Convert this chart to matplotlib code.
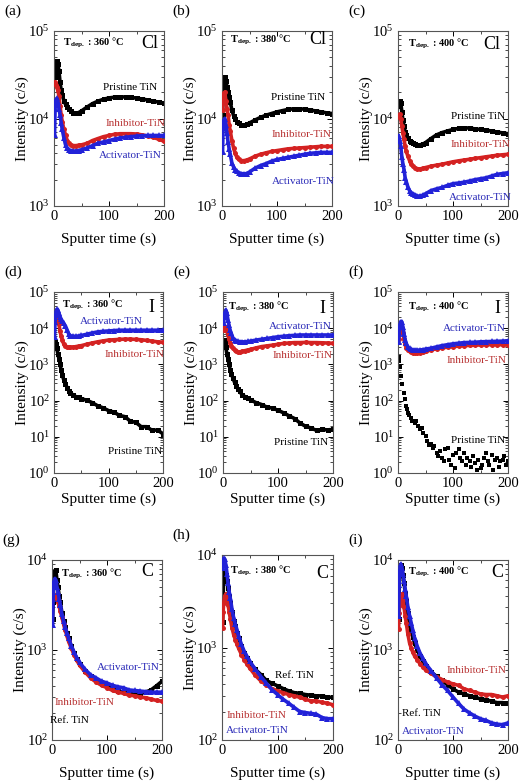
import numpy as np
import matplotlib
matplotlib.use('Agg')
import matplotlib.pyplot as plt
from matplotlib.ticker import LogLocator, LogFormatterMathtext, NullFormatter, MultipleLocator

plt.rcParams['font.family'] = ['Liberation Serif', 'DejaVu Serif']
plt.rcParams['mathtext.fontset'] = 'custom'
plt.rcParams['mathtext.rm'] = 'Liberation Serif'
plt.rcParams['mathtext.bf'] = 'Liberation Serif:bold'
plt.rcParams['mathtext.it'] = 'Liberation Serif:italic'

# tiempos de muestreo comunes (s)
t_grid = [1, 2, 3, 5, 7, 9, 11, 13, 15, 18, 21, 24, 27, 30, 35, 40, 45, 50, 60, 70,
          80, 90, 100, 110, 120, 130, 140, 150, 160, 170, 180, 190, 200]

# ---- Cl, 360 C
a_pristine = [3.0e4, 3.4e4, 4.0e4, 4.5e4, 4.2e4, 3.5e4, 2.6e4, 2.1e4, 1.85e4, 1.6e4, 1.45e4, 1.35e4, 1.28e4, 1.22e4, 1.17e4, 1.15e4, 1.17e4, 1.22e4, 1.35e4, 1.48e4,
              1.58e4, 1.66e4, 1.72e4, 1.75e4, 1.77e4, 1.76e4, 1.74e4, 1.71e4, 1.67e4, 1.63e4, 1.58e4, 1.54e4, 1.5e4]
a_inhib = [2.6e4, 2.5e4, 2.4e4, 2.3e4, 2.1e4, 1.8e4, 1.4e4, 1.1e4, 9.2e3, 7.5e3, 6.5e3, 5.6e3, 5.2e3, 5.0e3, 4.9e3, 4.9e3, 4.95e3, 5.0e3, 5.2e3, 5.6e3,
           5.9e3, 6.2e3, 6.4e3, 6.6e3, 6.7e3, 6.7e3, 6.7e3, 6.65e3, 6.5e3, 6.3e3, 6.1e3, 5.8e3, 5.5e3]
a_activ = [6.5e3, 1.3e4, 1.6e4, 1.7e4, 1.55e4, 1.3e4, 1.1e4, 9.0e3, 7.5e3, 6.0e3, 5.0e3, 4.6e3, 4.4e3, 4.3e3, 4.25e3, 4.25e3, 4.3e3, 4.4e3, 4.6e3, 4.9e3,
           5.2e3, 5.4e3, 5.6e3, 5.8e3, 6.0e3, 6.1e3, 6.2e3, 6.3e3, 6.35e3, 6.4e3, 6.4e3, 6.4e3, 6.4e3]

# ---- Cl, 380 C
b_pristine = [1.1e4, 2.3e4, 2.8e4, 3.0e4, 2.7e4, 2.3e4, 2.0e4, 1.75e4, 1.55e4, 1.25e4, 1.08e4, 9.8e3, 9.2e3, 8.8e3, 8.4e3, 8.4e3, 8.6e3, 8.9e3, 9.6e3, 1.03e4,
              1.09e4, 1.14e4, 1.19e4, 1.23e4, 1.27e4, 1.29e4, 1.29e4, 1.28e4, 1.25e4, 1.22e4, 1.19e4, 1.16e4, 1.14e4]
b_inhib = [1.25e4, 1.7e4, 1.95e4, 2.0e4, 1.6e4, 1.3e4, 1.1e4, 8.5e3, 7.2e3, 5.6e3, 4.6e3, 4.0e3, 3.6e3, 3.4e3, 3.3e3, 3.3e3, 3.35e3, 3.45e3, 3.7e3, 3.9e3,
           4.05e3, 4.2e3, 4.3e3, 4.4e3, 4.5e3, 4.55e3, 4.6e3, 4.65e3, 4.7e3, 4.75e3, 4.8e3, 4.8e3, 4.8e3]
b_activ = [4.1e3, 8.4e3, 9.5e3, 1.0e4, 8.5e3, 6.8e3, 5.4e3, 4.5e3, 3.9e3, 3.1e3, 2.8e3, 2.6e3, 2.5e3, 2.4e3, 2.35e3, 2.33e3, 2.35e3, 2.45e3, 2.7e3, 2.9e3,
           3.05e3, 3.25e3, 3.4e3, 3.5e3, 3.6e3, 3.7e3, 3.8e3, 3.9e3, 4.0e3, 4.05e3, 4.1e3, 4.1e3, 4.1e3]

# ---- Cl, 400 C
c_pristine = [1.4e4, 1.5e4, 1.57e4, 1.5e4, 1.2e4, 9.5e3, 8.2e3, 7.0e3, 6.4e3, 6.0e3, 5.6e3, 5.4e3, 5.2e3, 5.1e3, 5.0e3, 5.0e3, 5.1e3, 5.3e3, 5.9e3, 6.5e3,
              6.9e3, 7.2e3, 7.5e3, 7.7e3, 7.8e3, 7.8e3, 7.6e3, 7.5e3, 7.35e3, 7.2e3, 7.0e3, 6.85e3, 6.7e3]
c_inhib = [1.05e4, 1.1e4, 1.12e4, 1.0e4, 8.2e3, 6.8e3, 5.8e3, 4.8e3, 4.2e3, 3.7e3, 3.3e3, 3.0e3, 2.85e3, 2.75e3, 2.67e3, 2.65e3, 2.7e3, 2.75e3, 2.85e3, 2.93e3,
           3.0e3, 3.1e3, 3.2e3, 3.28e3, 3.35e3, 3.42e3, 3.5e3, 3.57e3, 3.65e3, 3.72e3, 3.8e3, 3.85e3, 3.9e3]
c_activ = [6.3e3, 6.0e3, 5.6e3, 4.8e3, 3.65e3, 3.0e3, 2.6e3, 2.1e3, 1.9e3, 1.65e3, 1.5e3, 1.42e3, 1.38e3, 1.35e3, 1.3e3, 1.3e3, 1.33e3, 1.38e3, 1.5e3, 1.57e3,
           1.63e3, 1.72e3, 1.8e3, 1.83e3, 1.87e3, 1.93e3, 2.0e3, 2.05e3, 2.1e3, 2.2e3, 2.3e3, 2.35e3, 2.4e3]

# ---- I, 360 C
d_pristine = [4.2e3, 4.0e3, 3.6e3, 2.8e3, 2.0e3, 1.45e3, 1.05e3, 7.0e2, 5.2e2, 3.7e2, 2.9e2, 2.3e2, 1.9e2, 1.66e2, 1.43e2, 1.29e2, 1.24e2, 1.14e2, 1.02e2, 8.8e1,
              7.2e1, 6.3e1, 5.3e1, 4.8e1, 3.9e1, 3.6e1, 2.7e1, 2.5e1, 1.9e1, 1.9e1, 1.5e1, 1.55e1, 1.2e1]
d_inhib = [1.7e4, 2.0e4, 2.2e4, 2.1e4, 1.7e4, 1.3e4, 8.5e3, 6.2e3, 4.8e3, 3.6e3, 3.2e3, 3.0e3, 2.95e3, 2.95e3, 3.0e3, 3.1e3, 3.2e3, 3.3e3, 3.6e3, 3.9e3,
           4.2e3, 4.45e3, 4.7e3, 4.8e3, 4.9e3, 5.0e3, 5.0e3, 4.9e3, 4.8e3, 4.6e3, 4.4e3, 4.2e3, 4.1e3]
d_activ = [5.8e3, 1.5e4, 2.3e4, 3.3e4, 3.2e4, 2.6e4, 2.1e4, 1.8e4, 1.6e4, 1.35e4, 1.15e4, 9.0e3, 7.0e3, 6.2e3, 6.0e3, 6.0e3, 6.1e3, 6.3e3, 6.8e3, 7.4e3,
           7.9e3, 8.2e3, 8.4e3, 8.6e3, 8.8e3, 8.8e3, 8.8e3, 8.8e3, 8.8e3, 8.8e3, 8.8e3, 8.8e3, 8.8e3]

# ---- I, 380 C
e_pristine = [4.7e3, 4.5e3, 4.1e3, 3.0e3, 2.0e3, 1.4e3, 1.0e3, 7.2e2, 5.6e2, 4.2e2, 3.2e2, 2.6e2, 2.1e2, 1.8e2, 1.43e2, 1.29e2, 1.15e2, 1.04e2, 8.8e1, 7.8e1,
              6.6e1, 6.2e1, 5.4e1, 4.6e1, 3.8e1, 3.2e1, 2.4e1, 1.95e1, 1.75e1, 1.5e1, 1.6e1, 1.55e1, 1.6e1]
e_inhib = [8.8e3, 1.0e4, 1.1e4, 1.1e4, 8.5e3, 6.5e3, 5.0e3, 4.0e3, 3.3e3, 2.8e3, 2.5e3, 2.3e3, 2.2e3, 2.2e3, 2.3e3, 2.4e3, 2.5e3, 2.6e3, 2.85e3, 3.1e3,
           3.25e3, 3.4e3, 3.6e3, 3.8e3, 3.9e3, 4.0e3, 4.0e3, 4.05e3, 4.0e3, 4.0e3, 3.95e3, 3.9e3, 3.8e3]
e_activ = [1.35e4, 2.0e4, 2.5e4, 3.2e4, 2.6e4, 1.7e4, 1.2e4, 8.8e3, 7.2e3, 5.4e3, 4.8e3, 4.5e3, 4.3e3, 4.2e3, 4.2e3, 4.2e3, 4.3e3, 4.4e3, 4.7e3, 4.95e3,
           5.2e3, 5.5e3, 5.8e3, 6.0e3, 6.2e3, 6.35e3, 6.5e3, 6.5e3, 6.5e3, 6.5e3, 6.5e3, 6.5e3, 6.5e3]

# ---- I, 400 C (pristine con ruido, tiempos propios)
f_pristine_t = [1, 2, 4, 6, 8, 10, 12, 14, 16, 18, 20, 23, 26, 30, 33, 36, 40, 43, 46, 50,
                53, 56, 60, 63, 66, 70, 73, 76, 80, 83, 86, 90, 93, 96, 100, 103, 106, 110, 113, 116,
                120, 123, 126, 130, 133, 136, 140, 143, 146, 150, 153, 156, 160, 163, 166, 170, 173, 176, 180, 183,
                186, 190, 193, 196, 200]
f_pristine = [1.56e3, 1.26e3, 8.3e2, 4.9e2, 2.8e2, 1.67e2, 1.09e2, 7.1e1, 5.7e1, 4.6e1, 4.0e1, 3.4e1, 2.8e1, 2.4e1, 2.7e1, 2.0e1, 1.6e1, 1.8e1, 1.3e1, 1.05e1,
              7.6, 6.1, 6.4, 4.9, 5.5, 3.6, 2.9, 4.0, 2.6, 2.1, 4.5, 4.9, 2.3, 1.7, 3.2, 1.4, 3.6, 4.5, 2.6, 2.1,
              3.6, 1.7, 2.6, 2.1, 1.5, 2.9, 1.9, 1.2, 2.3, 1.4, 1.7, 2.6, 3.6, 2.1, 1.7, 3.2, 1.2, 2.3, 2.6, 1.5,
              2.1, 2.3, 2.9, 1.7, 2.1]
f_inhib = [5.1e3, 7.5e3, 9.6e3, 1.07e4, 9.5e3, 7.5e3, 5.0e3, 3.6e3, 2.9e3, 2.5e3, 2.3e3, 2.2e3, 2.1e3, 2.1e3, 2.1e3, 2.12e3, 2.2e3, 2.3e3, 2.5e3, 2.7e3,
           2.85e3, 3.0e3, 3.1e3, 3.2e3, 3.3e3, 3.35e3, 3.4e3, 3.45e3, 3.5e3, 3.5e3, 3.5e3, 3.5e3, 3.5e3]
f_activ = [4.1e3, 7.5e3, 1.07e4, 1.53e4, 1.5e4, 1.07e4, 7.0e3, 4.8e3, 3.8e3, 3.0e3, 2.75e3, 2.6e3, 2.5e3, 2.5e3, 2.48e3, 2.5e3, 2.55e3, 2.65e3, 2.8e3, 3.05e3,
           3.3e3, 3.5e3, 3.7e3, 3.85e3, 4.0e3, 4.05e3, 4.1e3, 4.2e3, 4.25e3, 4.3e3, 4.35e3, 4.4e3, 4.5e3]

# ---- C, 360 C
g_ref = [2.2e3, 3.4e3, 5.7e3, 7.4e3, 7.7e3, 6.0e3, 5.0e3, 4.0e3, 3.4e3, 2.6e3, 2.1e3, 1.8e3, 1.55e3, 1.35e3, 1.1e3, 9.3e2, 8.0e2, 7.0e2, 5.8e2, 5.1e2,
         4.6e2, 4.2e2, 3.95e2, 3.7e2, 3.5e2, 3.4e2, 3.3e2, 3.3e2, 3.3e2, 3.4e2, 3.6e2, 4.0e2, 4.5e2]
g_inhib = [3.7e3, 4.2e3, 4.1e3, 4.0e3, 3.9e3, 3.8e3, 3.4e3, 3.1e3, 2.7e3, 2.3e3, 1.95e3, 1.65e3, 1.45e3, 1.25e3, 1.05e3, 8.9e2, 7.7e2, 6.8e2, 5.7e2, 4.9e2,
           4.4e2, 4.05e2, 3.8e2, 3.55e2, 3.4e2, 3.3e2, 3.15e2, 3.1e2, 3.0e2, 2.95e2, 2.85e2, 2.75e2, 2.7e2]
g_activ = [1.9e3, 3.7e3, 5.5e3, 6.2e3, 6.0e3, 5.0e3, 4.4e3, 3.7e3, 3.2e3, 2.5e3, 2.1e3, 1.8e3, 1.55e3, 1.36e3, 1.12e3, 9.5e2, 8.2e2, 7.3e2, 6.1e2, 5.3e2,
           4.9e2, 4.5e2, 4.3e2, 4.05e2, 3.9e2, 3.8e2, 3.6e2, 3.55e2, 3.5e2, 3.45e2, 3.4e2, 3.4e2, 3.4e2]

# ---- C, 380 C
h_ref = [1.9e3, 3.45e3, 5.6e3, 6.6e3, 6.1e3, 5.2e3, 4.4e3, 3.6e3, 3.0e3, 2.4e3, 1.95e3, 1.7e3, 1.45e3, 1.27e3, 1.03e3, 8.8e2, 7.7e2, 6.8e2, 5.8e2, 5.1e2,
         4.4e2, 4.1e2, 3.85e2, 3.6e2, 3.4e2, 3.25e2, 3.2e2, 3.1e2, 3.05e2, 3.0e2, 3.0e2, 2.9e2, 2.9e2]
h_inhib = [1.63e3, 2.45e3, 3.0e3, 3.6e3, 3.8e3, 3.5e3, 2.9e3, 2.4e3, 2.05e3, 1.63e3, 1.38e3, 1.22e3, 1.08e3, 9.8e2, 8.4e2, 7.4e2, 6.6e2, 6.0e2, 5.0e2, 4.35e2,
           3.95e2, 3.6e2, 3.4e2, 3.25e2, 3.1e2, 3.0e2, 2.9e2, 2.76e2, 2.65e2, 2.65e2, 2.55e2, 2.5e2, 2.4e2]
h_activ = [7.2e3, 8.5e3, 9.2e3, 9.0e3, 7.8e3, 6.3e3, 4.95e3, 4.0e3, 3.4e3, 2.6e3, 2.1e3, 1.8e3, 1.55e3, 1.32e3, 1.08e3, 9.1e2, 8.0e2, 7.1e2, 5.8e2, 4.85e2,
           4.1e2, 3.5e2, 3.1e2, 2.76e2, 2.5e2, 2.25e2, 2.03e2, 1.98e2, 1.94e2, 1.9e2, 1.75e2, 1.7e2, 1.7e2]

# ---- C, 400 C
i_ref = [2.2e3, 4.1e3, 6.9e3, 8.8e3, 8.2e3, 6.8e3, 5.6e3, 4.3e3, 3.5e3, 2.6e3, 1.9e3, 1.6e3, 1.38e3, 1.2e3, 1.0e3, 8.5e2, 7.5e2, 6.6e2, 5.7e2, 5.1e2,
         4.6e2, 4.1e2, 3.7e2, 3.4e2, 3.25e2, 3.1e2, 3.0e2, 2.85e2, 2.8e2, 2.7e2, 2.6e2, 2.6e2, 2.55e2]
i_inhib = [1.7e3, 2.6e3, 3.2e3, 3.8e3, 4.2e3, 3.6e3, 3.0e3, 2.4e3, 2.0e3, 1.5e3, 1.2e3, 1.05e3, 9.4e2, 8.6e2, 7.8e2, 7.0e2, 6.5e2, 6.0e2, 5.5e2, 5.0e2,
           4.7e2, 4.4e2, 4.2e2, 4.05e2, 3.7e2, 3.55e2, 3.4e2, 3.25e2, 3.2e2, 3.2e2, 3.1e2, 3.0e2, 3.1e2]
i_activ = [2.4e3, 5.3e3, 7.6e3, 9.0e3, 8.2e3, 7.0e3, 5.8e3, 4.8e3, 4.0e3, 3.0e3, 2.4e3, 2.0e3, 1.65e3, 1.37e3, 1.1e3, 9.25e2, 8.1e2, 7.1e2, 5.9e2, 4.9e2,
           4.1e2, 3.55e2, 3.0e2, 2.55e2, 2.2e2, 2.0e2, 1.84e2, 1.72e2, 1.65e2, 1.55e2, 1.5e2, 1.48e2, 1.55e2]

temps = ['360', '380', '400']
elements = ['Cl', 'I', 'C']

negro = '#000000'
rojo = '#d42222'
azul = '#2222d8'
rojo_txt = '#b83232'
azul_txt = '#2a2ab8'

fig = plt.figure(figsize=(5.2, 7.83), dpi=100)

W, H = 520.0, 783.0
# caja de cada panel en pixeles: (izq, arriba, der, abajo)
cajas = [(54, 31, 164, 206), (222, 31, 332, 206), (398, 31, 508, 206),
         (54, 292, 163, 473), (223, 292, 333, 473), (398, 292, 508, 473),
         (52, 560, 162, 740), (222, 555, 333, 740), (398, 560, 508, 740)]
sep_xlabel = [27, 20, 27]

# (serie, t, etiqueta, pos etiqueta), pos T_dep, pos elemento
paneles = [
    [(t_grid, a_pristine, 'Pristine TiN', (0.69, 0.68)), (t_grid, a_inhib, 'Inhibitor-TiN', (0.74, 0.47)),
     (t_grid, a_activ, 'Activator-TiN', (0.69, 0.29)), (0.08, 0.93), (0.87, 0.93)],
    [(t_grid, b_pristine, 'Pristine TiN', (0.69, 0.62)), (t_grid, b_inhib, 'Inhibitor-TiN', (0.72, 0.41)),
     (t_grid, b_activ, 'Activator-TiN', (0.74, 0.14)), (0.075, 0.95), (0.87, 0.95)],
    [(t_grid, c_pristine, 'Pristine TiN', (0.73, 0.51)), (t_grid, c_inhib, 'Inhibitor-TiN', (0.75, 0.35)),
     (t_grid, c_activ, 'Activator-TiN', (0.75, 0.05)), (0.09, 0.925), (0.85, 0.925)],
    [(t_grid, d_pristine, 'Pristine TiN', (0.74, 0.12)), (t_grid, d_inhib, 'Inhibitor-TiN', (0.74, 0.655)),
     (t_grid, d_activ, 'Activator-TiN', (0.53, 0.835)), (0.076, 0.93), (0.89, 0.915)],
    [(t_grid, e_pristine, 'Pristine TiN', (0.71, 0.17)), (t_grid, e_inhib, 'Inhibitor-TiN', (0.72, 0.65)),
     (t_grid, e_activ, 'Activator-TiN', (0.70, 0.81)), (0.045, 0.917), (0.90, 0.91)],
    [(f_pristine_t, f_pristine, 'Pristine TiN', (0.73, 0.18)), (t_grid, f_inhib, 'Inhibitor-TiN', (0.71, 0.62)),
     (t_grid, f_activ, 'Activator-TiN', (0.69, 0.80)), (0.09, 0.917), (0.90, 0.91)],
    [(t_grid, g_ref, 'Ref. TiN', (0.16, 0.11)), (t_grid, g_inhib, 'Inhibitor-TiN', (0.30, 0.21)),
     (t_grid, g_activ, 'Activator-TiN', (0.69, 0.40)), (0.085, 0.925), (0.87, 0.935)],
    [(t_grid, h_ref, 'Ref. TiN', (0.65, 0.35)), (t_grid, h_inhib, 'Inhibitor-TiN', (0.31, 0.13)),
     (t_grid, h_activ, 'Activator-TiN', (0.32, 0.05)), (0.075, 0.914), (0.90, 0.90)],
    [(t_grid, i_ref, 'Ref. TiN', (0.21, 0.146)), (t_grid, i_inhib, 'Inhibitor-TiN', (0.71, 0.385)),
     (t_grid, i_activ, 'Activator-TiN', (0.32, 0.047)), (0.09, 0.935), (0.90, 0.93)],
]

letras = 'abcdefghi'
ylims = [(1e3, 1e5), (1e0, 1e5), (1e2, 1e4)]

for k, p in enumerate(paneles):
    fila = k // 3
    col = k % 3
    x0, y0p, x1, y1p = cajas[k]
    ax = fig.add_axes([x0 / W, 1 - y1p / H, (x1 - x0) / W, (y1p - y0p) / H])
    alto = y1p - y0p
    ancho = x1 - x0

    (t0, y0, lab0, pos0), (t1, y1, lab1, pos1), (t2, y2, lab2, pos2), pos_t, pos_el = p

    if k == 5:
        ax.plot(t0, y0, 's', color=negro, ms=3.4, mew=0, zorder=2)
    else:
        ax.plot(t0, y0, '-s', color=negro, ms=3.6, lw=2.6, mew=0, zorder=2)
    ax.plot(t1, y1, '-o', color=rojo, ms=3.6, lw=2.6, mew=0, zorder=3)
    ax.plot(t2, y2, '-^', color=azul, ms=4.0, lw=2.6, mew=0, zorder=4)

    ax.set_yscale('log')
    ax.set_xlim(0, 200)
    ax.set_ylim(*ylims[fila])
    ax.xaxis.set_major_locator(MultipleLocator(100))
    ax.xaxis.set_minor_locator(MultipleLocator(50))
    ax.yaxis.set_major_locator(LogLocator(base=10, numticks=10))
    ax.yaxis.set_major_formatter(LogFormatterMathtext())
    ax.yaxis.set_minor_locator(LogLocator(base=10, subs=np.arange(2, 10), numticks=10))
    ax.yaxis.set_minor_formatter(NullFormatter())
    ax.tick_params(which='both', direction='in', top=True, right=True, labelsize=10.5, pad=3)
    ax.tick_params(which='major', length=3.5, width=0.7)
    ax.tick_params(which='minor', length=2, width=0.5)
    for s in ax.spines.values():
        s.set_color('#555555')
        s.set_linewidth(0.8)

    ax.set_xlabel('Sputter time (s)', fontsize=11)
    ax.set_ylabel('Intensity (c/s)', fontsize=11)
    ax.xaxis.set_label_coords(0.5, -sep_xlabel[fila] / alto)
    ax.yaxis.set_label_coords(-25.0 / ancho, 0.5)

    ax.text(pos0[0], pos0[1], lab0, transform=ax.transAxes, ha='center', va='center', fontsize=8, color=negro)
    ax.text(pos1[0], pos1[1], lab1, transform=ax.transAxes, ha='center', va='center', fontsize=8, color=rojo_txt)
    ax.text(pos2[0], pos2[1], lab2, transform=ax.transAxes, ha='center', va='center', fontsize=8, color=azul_txt)

    ax.text(pos_t[0], pos_t[1], r'$\mathbf{T_{dep.}}$' + ' : ' + temps[col] + ' \u00b0C',
            transform=ax.transAxes, ha='left', va='center', fontsize=7.5, fontweight='bold')
    ax.text(pos_el[0], pos_el[1], elements[fila], transform=ax.transAxes, ha='center', va='center', fontsize=13)

    fig.text((x0 - 52) / W + 0.004, 1 - (y0p - 20) / H, '(' + letras[k] + ')',
             ha='left', va='center', fontsize=11)

fig.savefig('out.png', dpi=100)
